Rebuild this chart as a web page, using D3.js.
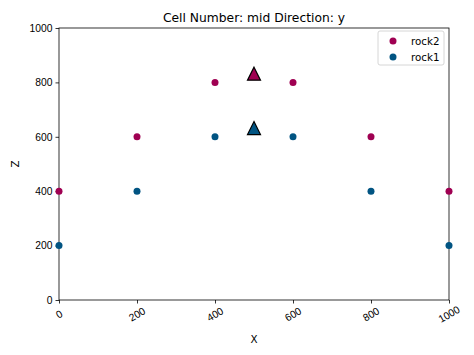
<!DOCTYPE html>
<html><head><meta charset="utf-8">
<script src="https://cdn.jsdelivr.net/npm/d3@7"></script>
<style>body{margin:0;background:#fff}svg{display:block;font-family:"DejaVu Sans",sans-serif}</style>
</head><body><svg id="c" width="474" height="355"></svg>
<script>
const xs = [0, 200, 400, 600, 800, 1000];
const rock2Z = [400, 600, 800, 800, 600, 400];
const rock1Z = [200, 400, 600, 600, 400, 200];
const surfacePointsX = [500, 500];
const surfacePointsZ = [832, 632];
const surfaceNames = ["rock2", "rock1"];
const xTicks = [0, 200, 400, 600, 800, 1000];
const yTicks = [0, 200, 400, 600, 800, 1000];
const series = [{name: "rock2", color: "#9f0052", z: rock2Z}, {name: "rock1", color: "#015482", z: rock1Z}];

const svg = d3.select("#c");
const L = 59, R = 449, T = 28, B = 300;
const x = d3.scaleLinear().domain([0, 1000]).range([L, R]);
const y = d3.scaleLinear().domain([0, 1000]).range([B, T]);
const color = {rock2: "#9f0052", rock1: "#015482"};

// axes
const gx = svg.append("g").attr("transform", `translate(0,${B})`)
  .call(d3.axisBottom(x).tickValues(xTicks).tickSize(3.5).tickPadding(3).tickFormat(d3.format("d")));
gx.selectAll("text").attr("font-size", 10.3).attr("fill", "#000")
  .attr("text-anchor", "middle").attr("dy", null)
  .attr("transform", `translate(0,15) rotate(-30)`).attr("y", 0).attr("x", 0)
  .attr("dominant-baseline", "middle");
const gy = svg.append("g").attr("transform", `translate(${L},0)`)
  .call(d3.axisLeft(y).tickValues(yTicks).tickSize(3.5).tickPadding(3).tickFormat(d3.format("d")));
gy.selectAll("text").attr("font-size", 10.3).attr("fill", "#000");
svg.selectAll(".domain").remove();
svg.selectAll(".tick line").attr("stroke", "#000").attr("stroke-width", 0.8);

// frame
svg.append("rect").attr("x", L).attr("y", T).attr("width", R - L).attr("height", B - T)
  .attr("fill", "none").attr("stroke", "#000").attr("stroke-width", 0.8);

// points
series.forEach(s => {
  svg.append("g").selectAll("circle").data(xs).join("circle")
    .attr("cx", d => x(d)).attr("cy", (d, i) => y(s.z[i])).attr("r", 3.5).attr("fill", s.color);
});
// triangles (matplotlib '^' : width == height)
const h = 6.5;
const triPath = `M0,${-h}L${h},${h}L${-h},${h}Z`;
svg.append("g").selectAll("path").data(surfacePointsX).join("path")
  .attr("d", triPath)
  .attr("transform", (d, i) => `translate(${x(d)},${y(surfacePointsZ[i])})`)
  .attr("fill", (d, i) => color[surfaceNames[i]]).attr("stroke", "#000").attr("stroke-width", 1.2)
  .attr("stroke-linejoin", "miter");

// title & labels
svg.append("text").attr("x", (L + R) / 2).attr("y", 22).attr("text-anchor", "middle")
  .attr("font-size", 12.3).text("Cell Number: mid Direction: y");
svg.append("text").attr("x", (L + R) / 2).attr("y", 343).attr("text-anchor", "middle")
  .attr("font-size", 10.3).text("X");
svg.append("text").attr("transform", `translate(19,${(T + B) / 2}) rotate(-90)`).attr("text-anchor", "middle")
  .attr("font-size", 10.3).text("Z");

// legend
const lg = svg.append("g");
lg.append("rect").attr("x", 378).attr("y", 31).attr("width", 66).attr("height", 34).attr("rx", 2)
  .attr("fill", "#fff").attr("stroke", "#ccc").attr("stroke-width", 0.8);
series.forEach((s, i) => {
  lg.append("circle").attr("cx", 393).attr("cy", 41 + i * 16).attr("r", 3.5).attr("fill", s.color);
  lg.append("text").attr("x", 411).attr("y", 41 + i * 16).attr("dy", "0.35em").attr("font-size", 10.3).text(s.name);
});
</script></body></html>
